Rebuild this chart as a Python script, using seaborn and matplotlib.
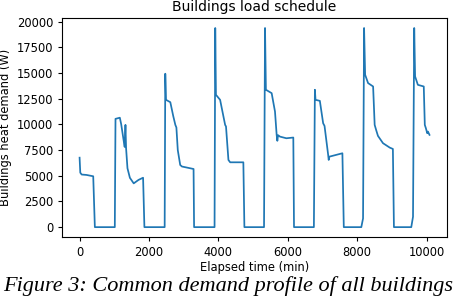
import matplotlib
matplotlib.use("Agg")
import matplotlib.pyplot as plt
import seaborn as sns
import pandas as pd

# Elapsed time (min) and total heat demand (W)
elapsed_min = [
    0, 20, 60, 200, 393, 440, 1015, 1035, 1160, 1200, 1275, 1300, 1322, 1340,
    1380, 1450, 1560, 1700, 1830, 1868, 2452, 2470, 2490, 2615, 2700, 2760,
    2790, 2830, 2900, 2950, 3285, 3300, 3890, 3910, 3930, 4050, 4195, 4220,
    4290, 4340, 4720, 4750, 5316, 5345, 5370, 5536, 5632, 5680, 5700, 5720,
    5776, 5960, 6160, 6180, 6753, 6782, 6800, 6925, 7020, 7060, 7165, 7180,
    7200, 7575, 7615, 8120, 8170, 8200, 8230, 8315, 8460, 8505, 8555, 8600,
    8745, 8940, 9030, 9060, 9560, 9610, 9645, 9670, 9750, 9920, 9950, 9980,
    10020, 10040, 10085,
]
heat_demand_w = [
    6760, 5300, 5120, 5080, 4950, 0, 0, 10540, 10650, 10000, 8320, 7800, 9950, 7680,
    5730, 4800, 4260, 4600, 4810, 0, 0, 14930, 12390, 12160, 10800, 9950,
    9700, 7500, 6050, 5900, 5660, 0, 0, 19380, 12880, 12390, 9950, 9800,
    6540, 6310, 6310, 0, 0, 19380, 13370, 13040, 11250, 8980, 8400, 8950,
    8810, 8650, 8720, 0, 0, 13370, 12390, 12290, 10110, 9850, 7020, 6540,
    6860, 7190, 0, 0, 850, 19380, 14830, 14020, 13690, 9950, 9370, 8880,
    8170, 7740, 7610, 0, 0, 1010, 19380, 14670, 13850, 13690, 9950, 9640,
    9140, 9300, 8980,
]

df = pd.DataFrame({"t": elapsed_min, "q": heat_demand_w})

fig = plt.figure(figsize=(4.74, 2.96), dpi=100)
ax = fig.add_axes([0.131, 0.199, 0.812, 0.740])
sns.lineplot(data=df, x="t", y="q", sort=False, estimator=None,
             color="#1f77b4", linewidth=1.25, ax=ax)

ax.set_title("Buildings load schedule", fontsize=10, pad=5)
ax.set_xlabel("Elapsed time (min)", fontsize=8.3, labelpad=1.5)
ax.set_ylabel("Buildings heat demand (W)", fontsize=8.3, labelpad=3)
ax.set_xticks([0, 2000, 4000, 6000, 8000, 10000])
ax.set_yticks([0, 2500, 5000, 7500, 10000, 12500, 15000, 17500, 20000])
ax.tick_params(labelsize=8.3, length=3)

# paper caption below the chart
fig.text(0.006, 0.017, "Figure 3: Common demand profile of all buildings",
         fontsize=16, family="Liberation Serif", style="italic", ha="left")

fig.savefig("out.png", dpi=100)
